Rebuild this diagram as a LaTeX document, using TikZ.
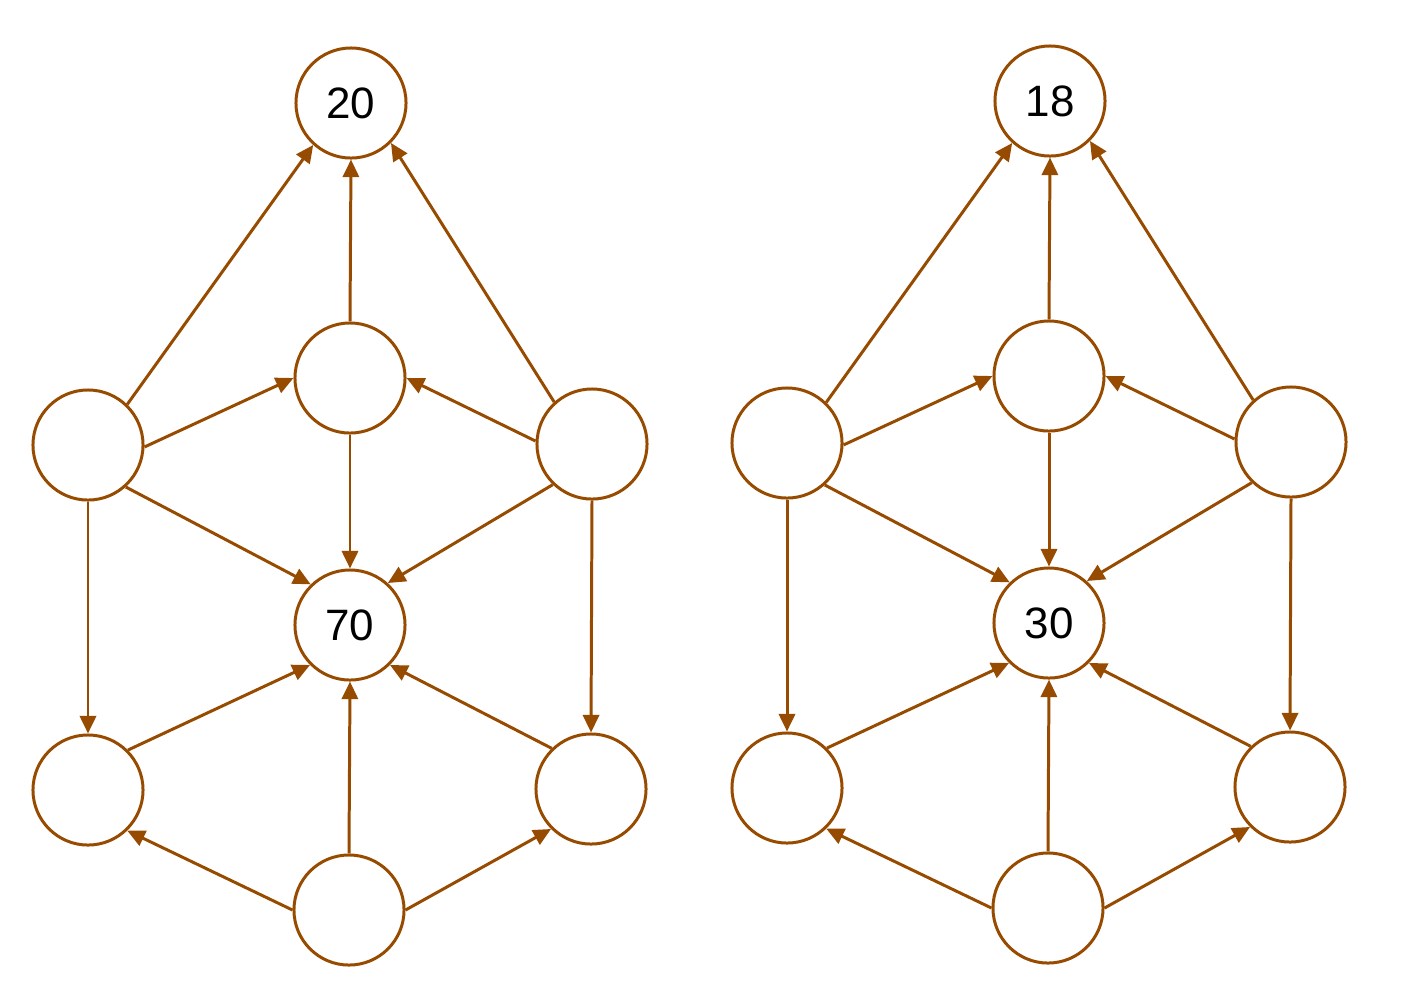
\documentclass[tikz,border=0pt]{standalone}
\usepackage{fontspec}
\setmainfont{Liberation Sans}
\usetikzlibrary{arrows.meta}
\definecolor{brn}{RGB}{150,75,0}
\begin{document}
\begin{tikzpicture}[x=0.01cm,y=-0.01cm,
  vtx/.style={circle,draw=brn,line width=0.85pt,minimum size=1.1cm,inner sep=0pt,font=\fontsize{12.5}{14}\selectfont},
  arr/.style={draw=brn,line width=0.85pt,-{Triangle[length=5pt,width=4.6pt]}}]
\useasboundingbox (0,0) rectangle (1406,1002);
\foreach \p/\dx/\dy/\ta/\tb in {a/0/0/20/70,b/699/-2/18/30}{
  \node[vtx] (\p t) at (351+\dx,103+\dy) {\ta};
  \node[vtx] (\p m) at (350+\dx,378+\dy) {};
  \node[vtx] (\p l) at (88+\dx,445+\dy) {};
  \node[vtx] (\p r) at (592+\dx,444+\dy) {};
  \node[vtx] (\p c) at (350+\dx,625+\dy) {\tb};
  \node[vtx] (\p bl) at (88+\dx,790+\dy) {};
  \node[vtx] (\p br) at (591+\dx,789+\dy) {};
  \node[vtx] (\p b) at (349+\dx,910+\dy) {};
  \foreach \u/\v in {l.46/t.-132,m.90/t.-90,r.132/t.-45,l.-2/m.180,r.177/m.0,m.-90/c.90,l.-48/c.134,r.-134/c.48,l.-90/bl.90,r.-90/br.90,bl.45/c.-135,b.90/c.-90,br.134/c.-45,b.180/bl.-46,b.0/br.-135}
    \draw[arr] (\p\u) -- (\p\v);
}
\end{tikzpicture}
\end{document}
